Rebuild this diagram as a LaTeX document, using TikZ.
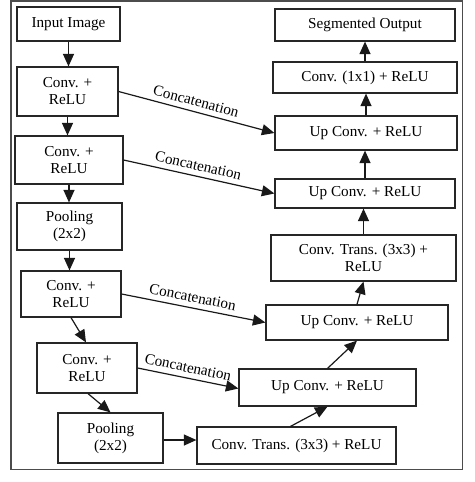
\documentclass[tikz,border=0pt]{standalone}
\usepackage{fontspec}
\setmainfont{Liberation Serif}
\usetikzlibrary{arrows.meta}
\tikzset{
  blk/.style={draw=black!85, line width=1.2pt, rectangle, inner sep=2pt, align=center,
    font=\fontsize{15.2}{17}\selectfont},
  arr/.style={line width=1.2pt, draw=black!90, -{Triangle[length=12.5pt,width=11pt]}},
  concat/.style={sloped, above=5pt, pos=0.48, inner sep=0pt, font=\fontsize{15.2}{17}\selectfont},
  frm/.style={draw=black!70, line width=1.5pt}
}
\begin{document}
\begin{tikzpicture}[x=1pt,y=-1pt]
\useasboundingbox (0,0) rectangle (474,482);
\draw[frm] (11,1) rectangle (462.5,469.5);
% left column
\node[blk, minimum width=103pt, minimum height=34pt] (in) at (68.5,24) {Input Image};
\node[blk, minimum width=101pt, minimum height=49pt] (c1) at (67.5,91.5) {Conv. +\\ReLU};
\node[blk, minimum width=108pt, minimum height=48pt] (c2) at (69,160) {Conv. +\\ReLU};
\node[blk, minimum width=105pt, minimum height=47pt] (p1) at (69.5,226.5) {Pooling\\(2x2)};
\node[blk, minimum width=100pt, minimum height=46pt] (c3) at (71,294) {Conv. +\\ReLU};
\node[blk, minimum width=100pt, minimum height=50pt] (c4) at (87,368) {Conv. +\\ReLU};
\node[blk, minimum width=105pt, minimum height=50pt] (p2) at (110.5,438) {Pooling\\(2x2)};
% right column
\node[blk, minimum width=199pt, minimum height=37pt] (ct1) at (296.5,445.5) {Conv. Trans. (3x3) + ReLU};
\node[blk, minimum width=177pt, minimum height=37pt] (u1) at (327.5,387.5) {Up Conv. + ReLU};
\node[blk, minimum width=182pt, minimum height=35pt] (u2) at (357,322.5) {Up Conv. + ReLU};
\node[blk, minimum width=185pt, minimum height=46pt] (ct2) at (363.5,258) {Conv. Trans. (3x3) +\\ReLU};
\node[blk, minimum width=180pt, minimum height=29pt] (u3) at (365,193.5) {Up Conv. + ReLU};
\node[blk, minimum width=182pt, minimum height=34pt] (u4) at (366,133) {Up Conv. + ReLU};
\node[blk, minimum width=184pt, minimum height=31pt] (c11) at (365,77.5) {Conv. (1x1) + ReLU};
\node[blk, minimum width=180pt, minimum height=32pt] (out) at (365,25) {Segmented Output};
% down path
\draw[arr] (in.south) -- (in.south |- c1.north);
\draw[arr] (c1.south) -- (c1.south |- c2.north);
\draw[arr] (c2.south) -- (c2.south |- p1.north);
\draw[arr] (p1.south) -- (p1.south |- c3.north);
\draw[arr] (c3.south) -- ([xshift=-1pt]c4.north);
\draw[arr] ([xshift=1pt]c4.south) -- (p2.north);
\draw[arr] ([yshift=-2pt]p2.east) -- ([yshift=-2pt]p2.east -| ct1.west);
% up path
\draw[arr] ([xshift=-6pt]ct1.north) -- (u1.south);
\draw[arr] (u1.north) -- (u2.south);
\draw[arr] (u2.north) -- (ct2.south);
\draw[arr] (ct2.north) -- (ct2.north |- u3.south);
\draw[arr] (u3.north) -- (u3.north |- u4.south);
\draw[arr] (u4.north) -- (u4.north |- c11.south);
\draw[arr] (c11.north) -- (c11.north |- out.south);
% skip connections
\draw[arr] (c1.east) -- node[concat] {Concatenation} (u4.west);
\draw[arr] (c2.east) -- node[concat] {Concatenation} (u3.west);
\draw[arr] (c3.east) -- node[concat] {Concatenation} (u2.west);
\draw[arr] (c4.east) -- node[concat] {Concatenation} ([yshift=-1pt]u1.west);
\end{tikzpicture}
\end{document}
